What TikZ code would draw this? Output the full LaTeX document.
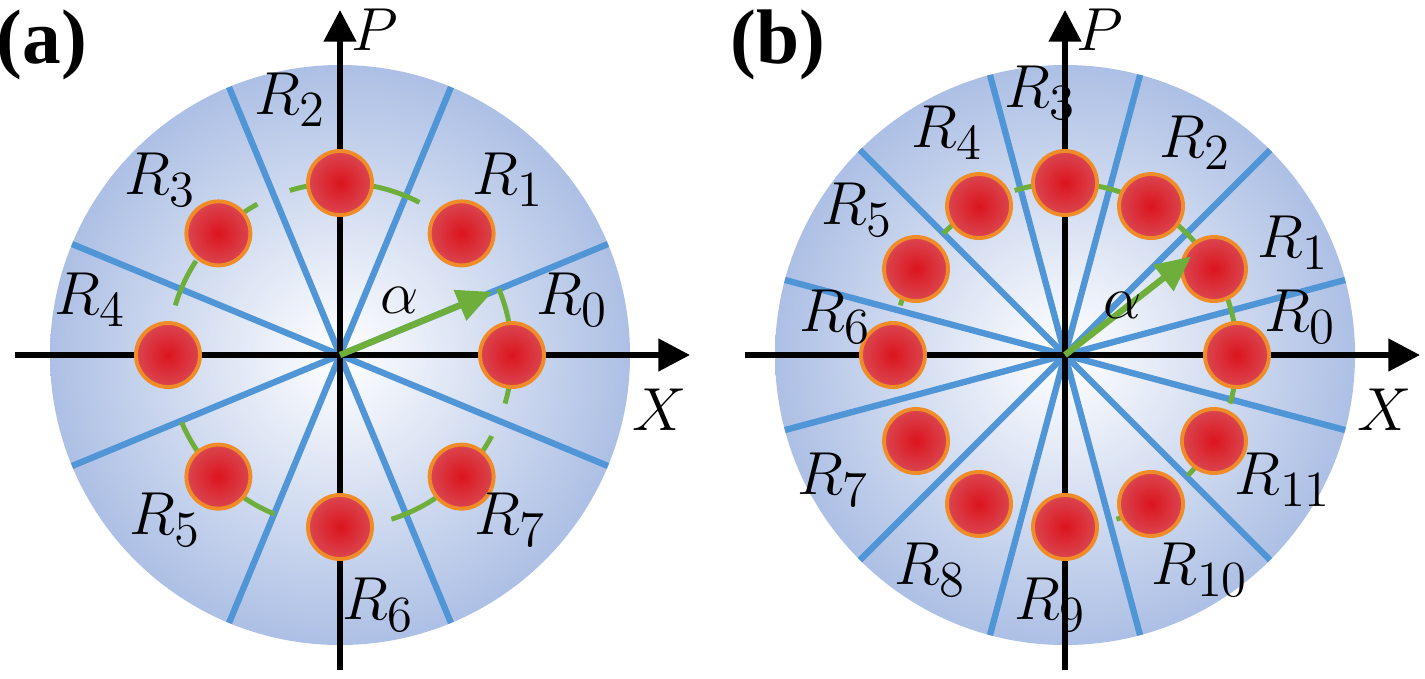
\documentclass[tikz,border=0pt]{standalone}
\usepackage{fontspec}
\setmainfont{Liberation Serif}
\usetikzlibrary{arrows.meta}
\definecolor{diskblue}{RGB}{100,135,205}
\definecolor{sred}{RGB}{220,20,30}
\definecolor{sedge}{RGB}{215,120,130}
\definecolor{orng}{RGB}{240,140,40}
\definecolor{sblue}{RGB}{80,150,215}
\definecolor{grn}{RGB}{110,175,60}
\pgfdeclareradialshading{diskshade}{\pgfpoint{0bp}{0bp}}{color(0bp)=(white); color(40bp)=(diskblue!85!white); color(50bp)=(diskblue)}
\pgfdeclareradialshading{dotshade}{\pgfpoint{0bp}{0bp}}{color(0bp)=(sred); color(50bp)=(sedge)}
\newcommand{\Rl}[1]{$R_{#1}$}
\tikzset{
  sector/.style={sblue,line width=1.8pt},
  axis/.style={black,line width=1.6pt,-{Triangle[length=9pt,width=9pt]}},
  gcirc/.style={grn,line width=1.4pt,dash pattern=on 14pt off 10pt},
  garrow/.style={grn,line width=1.8pt,-{Triangle[length=10pt,width=9pt]}},
  lbl/.style={font=\fontsize{19}{22}\selectfont},
  dot/.style={circle,minimum size=0.64cm,inner sep=0pt,shading=dotshade,draw=orng,line width=1.1pt},
  tag/.style={font=\fontsize{22}{26}\selectfont\bfseries}
}
\begin{document}
\begin{tikzpicture}[x=0.01cm,y=-0.01cm]
\useasboundingbox (0,0) rectangle (1425,678);
% panel a
\begin{scope}[shift={(340,355)}]
\path[shading=diskshade] (0,0) circle (290);
\foreach \a in {22.5,67.5,...,337.5} \draw[sector] (0,0) -- (\a:290 and -290);
\draw[gcirc] (0,0) circle (172);
\draw[axis] (-325,0) -- (350,0);
\draw[axis] (0,315) -- (0,-345);
\foreach \i in {0,...,7} \node[dot] (a\i) at ({45*\i}:172 and -172) {};
\draw[garrow] (0,0) -- (22.5:165 and -165);
\node[lbl] (al) at (60,-55) {$\alpha$};
\node[lbl] (pa) at (35,-325) {$P$};
\node[lbl] (xa) at (320,55) {$X$};
\node[lbl] at (232,-55) {\Rl{0}};
\node[lbl] at (168,-175) {\Rl{1}};
\node[lbl] at (-50,-255) {\Rl{2}};
\node[lbl] at (-180,-175) {\Rl{3}};
\node[lbl] at (-250,-55) {\Rl{4}};
\node[lbl] at (-175,165) {\Rl{5}};
\node[lbl] at (38,250) {\Rl{6}};
\node[lbl] at (170,165) {\Rl{7}};
\end{scope}
\node[tag] (ta) at (42,45) {(a)};
% panel b
\begin{scope}[shift={(1065,355)}]
\path[shading=diskshade] (0,0) circle (290);
\foreach \a in {15,45,...,345} \draw[sector] (0,0) -- (\a:290 and -290);
\draw[gcirc] (0,0) circle (172);
\draw[axis] (-320,0) -- (355,0);
\draw[axis] (0,315) -- (0,-345);
\foreach \i in {0,...,11} \node[dot] (b\i) at ({30*\i}:172 and -172) {};
\draw[garrow] (0,0) -- (38:160 and -160);
\node[lbl] (alb) at (58,-50) {$\alpha$};
\node[lbl] (pb) at (35,-325) {$P$};
\node[lbl] (xb) at (320,55) {$X$};
\node[lbl] at (235,-38) {\Rl{0}};
\node[lbl] at (228,-112) {\Rl{1}};
\node[lbl] at (130,-212) {\Rl{2}};
\node[lbl] at (-25,-262) {\Rl{3}};
\node[lbl] at (-118,-222) {\Rl{4}};
\node[lbl] at (-208,-145) {\Rl{5}};
\node[lbl] at (-230,-38) {\Rl{6}};
\node[lbl] at (-232,125) {\Rl{7}};
\node[lbl] at (-135,215) {\Rl{8}};
\node[lbl] at (-15,250) {\Rl{9}};
\node[lbl] at (135,215) {\Rl{10}};
\node[lbl] at (218,125) {\Rl{11}};
\end{scope}
\node[tag] (tb) at (778,45) {(b)};
\end{tikzpicture}
\end{document}
